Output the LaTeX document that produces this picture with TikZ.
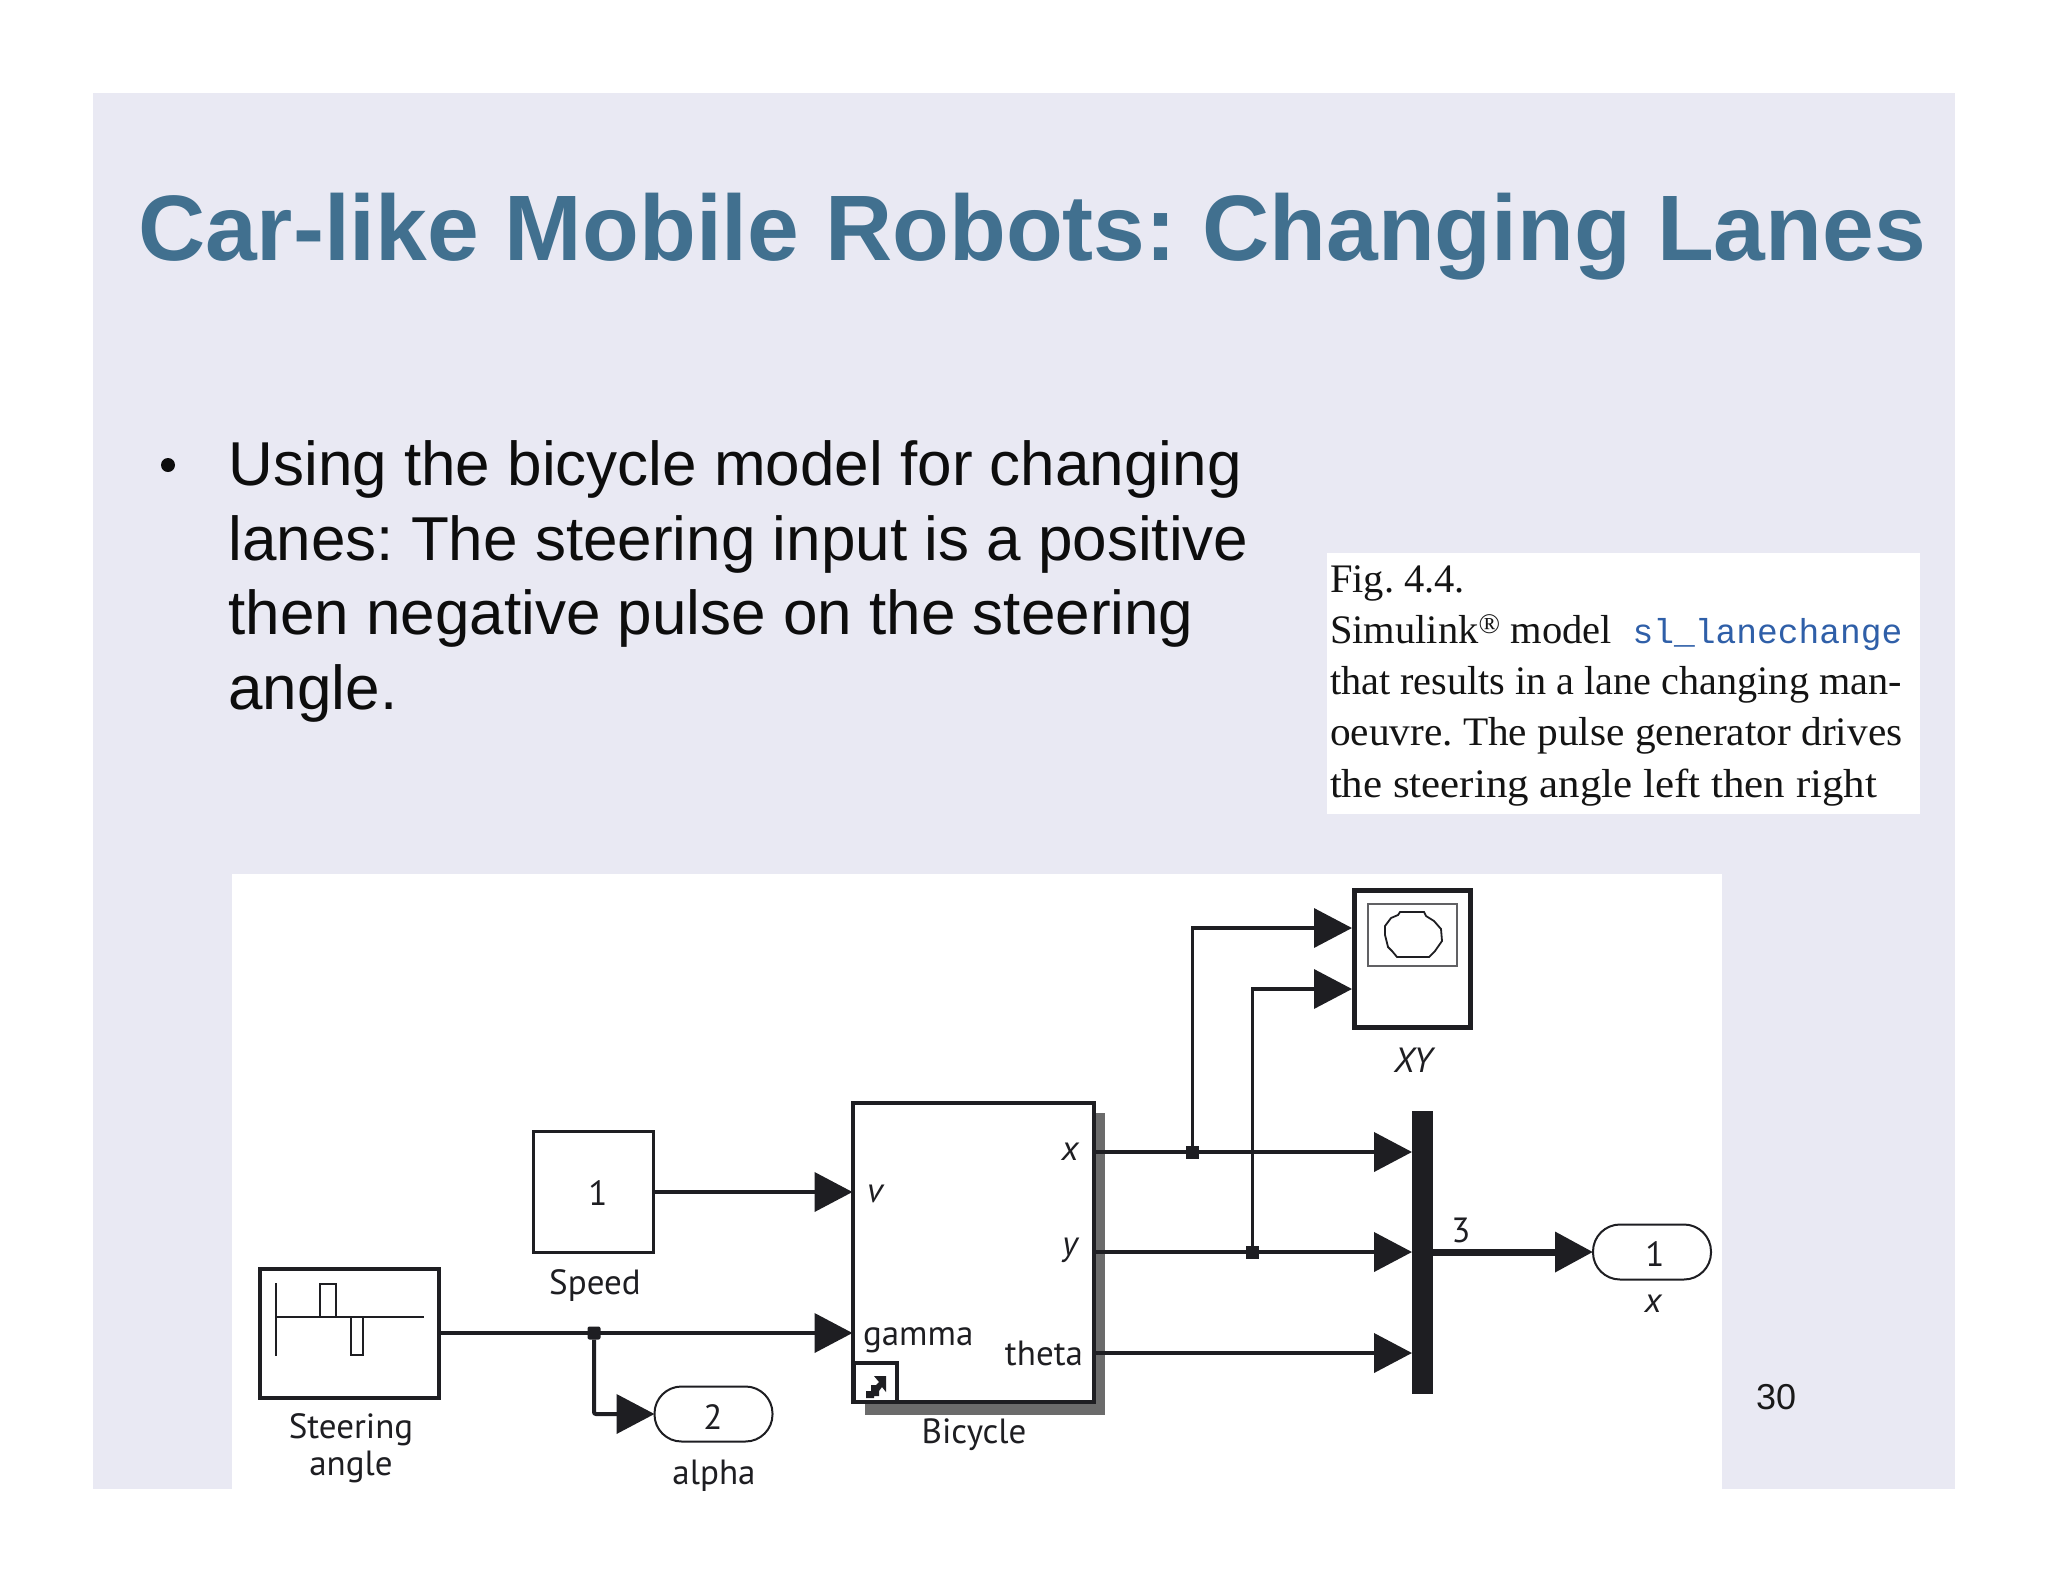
\documentclass[tikz,border=0pt]{standalone}
\usepackage{fontspec}
\setmainfont{Liberation Sans}
\newfontfamily\capfont{Liberation Serif}
\newfontfamily\capmono{Liberation Mono}
\newfontfamily\slfont{PT Sans}
\usetikzlibrary{arrows.meta}
\definecolor{slidebg}{HTML}{E9E9F3}
\definecolor{titleblue}{HTML}{41708F}
\definecolor{ink}{HTML}{1E1E22}
\definecolor{codeblue}{HTML}{2F5FA8}
\tikzset{
  x=1pt,y=-1pt,
  block/.style={draw=ink,fill=white,inner sep=0pt,outer sep=0pt,line width=#1},
  block/.default=4pt,
  port/.style={draw=ink,fill=white,rounded corners=27pt,line width=2pt,inner sep=0pt,outer sep=0pt,minimum width=118pt,minimum height=55pt},
  lbl/.style={inner sep=0pt,outer sep=0pt,text=ink,font=\slfont\fontsize{35}{35}\selectfont},
  ilbl/.style={inner sep=0pt,outer sep=0pt,text=ink,font=\slfont\itshape\fontsize{35}{35}\selectfont},
  wire/.style={draw=ink,line width=4pt,-{Triangle[length=38pt,width=39pt,fill=ink]}},
  junction/.style={fill=ink,inner sep=0pt,minimum size=13pt,outer sep=0pt},
  bodytext/.style={anchor=base west,inner sep=0pt,outer sep=0pt,font=\fontsize{62}{62}\selectfont,text=black!95},
  captext/.style={anchor=base west,inner sep=0pt,outer sep=0pt,font=\capfont\fontsize{40.5}{40.5}\selectfont,text=black!92},
}
\begin{document}
\frenchspacing
\begin{tikzpicture}
\useasboundingbox (0,0) rectangle (2048,1582);
\fill[white] (0,0) rectangle (2048,1582);
\fill[slidebg] (93,93) rectangle (1955,1489);
\fill[white] (232,874) rectangle (1722,1489);
\fill[white] (1327,553) rectangle (1920,814);
% title
\node[anchor=base,inner sep=0pt,text=titleblue,font=\bfseries\fontsize{93}{93}\selectfont] (title) at (1032,260) {Car-like Mobile Robots: Changing Lanes};
% body
\fill[black!95] (168,465) circle (7);
\node[bodytext] (b1) at (228.5,485) {Using the bicycle model for changing};
\node[bodytext] (b2) at (228.5,560) {lanes: The steering input is a positive};
\node[bodytext] (b3) at (228.5,634) {then negative pulse on the steering};
\node[bodytext] (b4) at (228.5,709) {angle.};
% caption
\node[captext] (c1) at (1330,592) {Fig. 4.4.};
\node[captext] (c2) at (1330,643) {Simulink\textsuperscript{®} model\hspace{10.5pt} {\capmono\fontsize{34.6}{34.6}\selectfont\color{codeblue}sl\_lanechange}};
\node[captext] (c3) at (1330,694) {\scalebox{0.993}[1]{that results in a lane changing man-}};
\node[captext] (c4) at (1330,745) {\scalebox{1.02}[1]{oeuvre. The pulse generator drives}};
\node[captext] (c5) at (1330,797) {\scalebox{1.06}[1]{the steering angle left then right}};
% page number
\node[inner sep=0pt,font=\fontsize{36}{36}\selectfont,text=black!90] (pg) at (1776,1397) {30};
% shadow + bicycle
\fill[black!58] (865,1113) rectangle (1105,1415);
\node[block,minimum width=241pt,minimum height=299pt] (bike) at (973,1252.5) {};
\node[block,minimum width=43pt,minimum height=39pt] (short) at (875,1382.5) {};
\fill[ink] (866,1398) -- (866,1391) -- (871,1391) -- (871,1385) -- (876,1385) -- (879,1382) -- (874,1376) -- (886,1376) -- (886,1392) -- (882,1387) -- (879,1391) -- (879,1396) -- (874,1396) -- (874,1398) -- cycle;
% blocks
\node[block=2.5pt,minimum width=120pt,minimum height=121pt] (speed) at (593.5,1192) {};
\node[lbl] (speedn) at (598,1193) {1};
\node[block,minimum width=179pt,minimum height=129pt] (steer) at (349.5,1333) {};
\draw[ink,line width=2pt] (276,1283) -- (276,1356);
\draw[ink,line width=2pt] (276,1317) -- (424,1317);
\draw[ink,line width=2pt] (320,1317) -- (320,1284) -- (336,1284) -- (336,1317);
\draw[ink,line width=2pt] (351,1317) -- (351,1355) -- (363,1355) -- (363,1317);
\node[block=5.5pt,minimum width=116pt,minimum height=137pt] (xy) at (1412.5,959) {};
\draw[ink!70!white,line width=2.5pt] (1368,904) rectangle (1457,966);
\draw[ink,line width=1.8pt] (1400,912) -- (1424,912) -- (1426,916) -- (1434,921) -- (1441,929) -- (1442,941) -- (1435,951) -- (1429,957) -- (1397,957) -- (1392,951) -- (1388,947) -- (1385,935) -- (1385,926) -- (1391,918) -- (1398,915) -- cycle;
\node[fill=ink,inner sep=0pt,outer sep=0pt,minimum width=21pt,minimum height=283pt] (mux) at (1422.5,1252.5) {};
\node[port] (out1) at (1652,1252) {};
\node[lbl] (out1n) at (1655,1254) {1};
\node[port] (out2) at (713.5,1414) {};
\node[lbl] (out2n) at (713,1417) {2};
% named ports
\coordinate (px) at (1095,1152);
\coordinate (py) at (1095,1252);
\coordinate (pt) at (1095,1353);
\coordinate (xyA) at (1352,928);
\coordinate (xyB) at (1352,989);
\node[junction] (jx) at (1192.5,1152) {};
\node[junction] (jy) at (1252.5,1252) {};
\node[junction,rounded corners=2pt] (js) at (594,1333) {};
% connectors
\draw[wire] (speed.east) -- (speed.east -| bike.west);
\draw[wire] (steer.east) -- (steer.east -| bike.west);
\draw[wire,rounded corners=2pt] (js) |- (out2.west);
\draw[wire] (px) -- (px -| mux.west);
\draw[wire] (py) -- (py -| mux.west);
\draw[wire] (pt) -- (pt -| mux.west);
\draw[wire,line width=3.5pt] (jx) |- (xyA);
\draw[wire,line width=3.5pt] (jy) |- (xyB);
\draw[wire,line width=7pt] (mux.east |- out1.west) -- (out1.west);
% labels
\node[ilbl] (lx) at (1070,1152) {x};
\node[ilbl] (ly) at (1070,1250) {y};
\node[ilbl] (lv) at (875,1194) {v};
\node[lbl,anchor=base west] (lg) at (863,1345) {gamma};
\node[lbl,anchor=base east] (lt) at (1083,1365) {theta};
\node[lbl,anchor=base] (lb) at (974,1443) {Bicycle};
\node[lbl,anchor=base] (ls) at (595,1294) {Speed};
\node[lbl,anchor=base] (la1) at (351,1438) {Steering};
\node[lbl,anchor=base] (la2) at (351,1475) {angle};
\node[lbl,anchor=base] (lal) at (714,1484) {alpha};
\node[ilbl] (lxy) at (1413,1060) {XY};
\node[ilbl] (lox) at (1653,1304) {x};
\node[lbl] (l3) at (1461,1230) {3};
\end{tikzpicture}
\end{document}
